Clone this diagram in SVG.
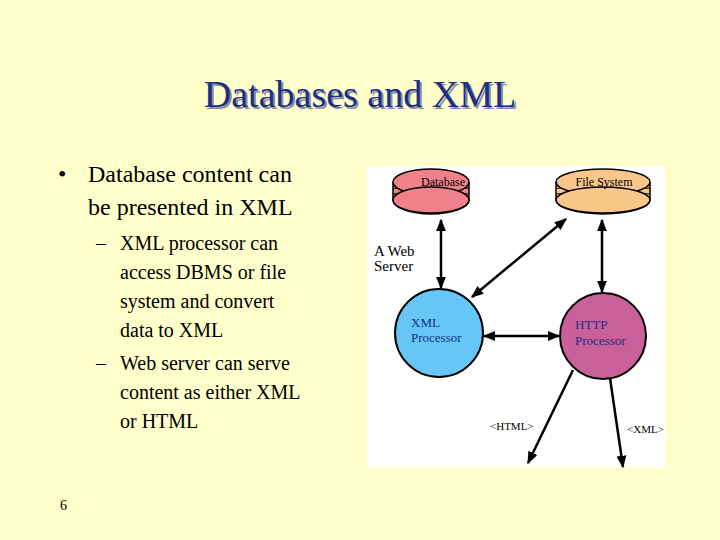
<svg xmlns="http://www.w3.org/2000/svg" width="720" height="540" viewBox="0 0 720 540">
<defs>
<style>
text{font-family:"Liberation Serif","Times New Roman",serif}
.l{stroke:#000;stroke-width:2.5;fill:none}
</style>
<marker id="a" viewBox="0 0 10 10" refX="9" refY="5" markerWidth="5" markerHeight="5" orient="auto-start-reverse"><path d="M0,1 L10,5 L0,9 z" fill="#000"/></marker>
</defs>
<rect width="720" height="540" fill="#ffffcc"/>
<text x="362" y="109" text-anchor="middle" font-size="38" fill="#8c8ca8">Databases and XML</text>
<text x="360" y="107" text-anchor="middle" font-size="38" fill="#1c2f80">Databases and XML</text>
<g fill="#000">
<text x="58" y="182" font-size="24">•</text>
<text x="88" y="182" font-size="24">Database content can</text>
<text x="88" y="215" font-size="24">be presented in XML</text>
<text x="96" y="250" font-size="20">–</text>
<text x="120" y="250" font-size="20">XML processor can</text>
<text x="120" y="279" font-size="20">access DBMS or file</text>
<text x="120" y="308" font-size="20">system and convert</text>
<text x="120" y="337" font-size="20">data to XML</text>
<text x="96" y="370" font-size="20">–</text>
<text x="120" y="370" font-size="20">Web server can serve</text>
<text x="120" y="399" font-size="20">content as either XML</text>
<text x="120" y="428" font-size="20">or HTML</text>
<text x="60" y="510" font-size="14">6</text>
</g>
<rect x="367" y="166" width="298" height="302" fill="#fff"/>
<g id="database">
<path d="M393,182 V200 A38,14 0 0 0 469,200 V182" fill="#f0808a" stroke="#000" stroke-width="1.5"/>
<path d="M393,188 L469,194 M393,194 L469,188" stroke="#000" stroke-width="1"/>
<ellipse cx="431" cy="182" rx="38" ry="13" fill="#f0808a" stroke="#000" stroke-width="1.5"/>
<ellipse cx="431" cy="200" rx="38" ry="13" fill="#f0808a" stroke="#000" stroke-width="1.5"/>
<text x="443" y="186" text-anchor="middle" font-size="12">Database</text>
</g>
<g id="filesystem">
<path d="M556,182 V200 A47,14 0 0 0 650,200 V182" fill="#fbc68a" stroke="#000" stroke-width="1.5"/>
<path d="M556,188 L650,194 M556,194 L650,188" stroke="#000" stroke-width="1"/>
<ellipse cx="603" cy="182" rx="47" ry="13" fill="#fbc68a" stroke="#000" stroke-width="1.5"/>
<ellipse cx="603" cy="200" rx="47" ry="13" fill="#fbc68a" stroke="#000" stroke-width="1.5"/>
<text x="604" y="186" text-anchor="middle" font-size="12">File System</text>
</g>
<text x="374" y="256" font-size="15">A Web</text>
<text x="374" y="271" font-size="15">Server</text>
<g id="xml">
<circle cx="439" cy="333" r="44" fill="#66c6f8" stroke="#000" stroke-width="2"/>
<text x="411" y="327" font-size="13" fill="#1c2f80">XML</text>
<text x="411" y="342" font-size="13" fill="#1c2f80">Processor</text>
</g>
<g id="http">
<circle cx="603" cy="336" r="43" fill="#c9609a" stroke="#000" stroke-width="2"/>
<text x="575" y="329" font-size="13" fill="#1c2f80">HTTP</text>
<text x="575" y="345" font-size="13" fill="#1c2f80">Processor</text>
</g>
<text x="490" y="430" font-size="11">&lt;HTML&gt;</text>
<text x="627" y="433" font-size="11">&lt;XML&gt;</text>
<g id="connectors" class="l">
<line x1="441" y1="220" x2="441" y2="288" marker-start="url(#a)" marker-end="url(#a)"/>
<line x1="566" y1="219" x2="472" y2="297" marker-start="url(#a)" marker-end="url(#a)"/>
<line x1="602" y1="220" x2="602" y2="292" marker-start="url(#a)" marker-end="url(#a)"/>
<line x1="484" y1="336" x2="559" y2="336" marker-start="url(#a)" marker-end="url(#a)"/>
<line x1="573" y1="370" x2="528" y2="463" marker-end="url(#a)"/>
<line x1="610" y1="378" x2="623" y2="467" marker-end="url(#a)"/>
</g>
</svg>
